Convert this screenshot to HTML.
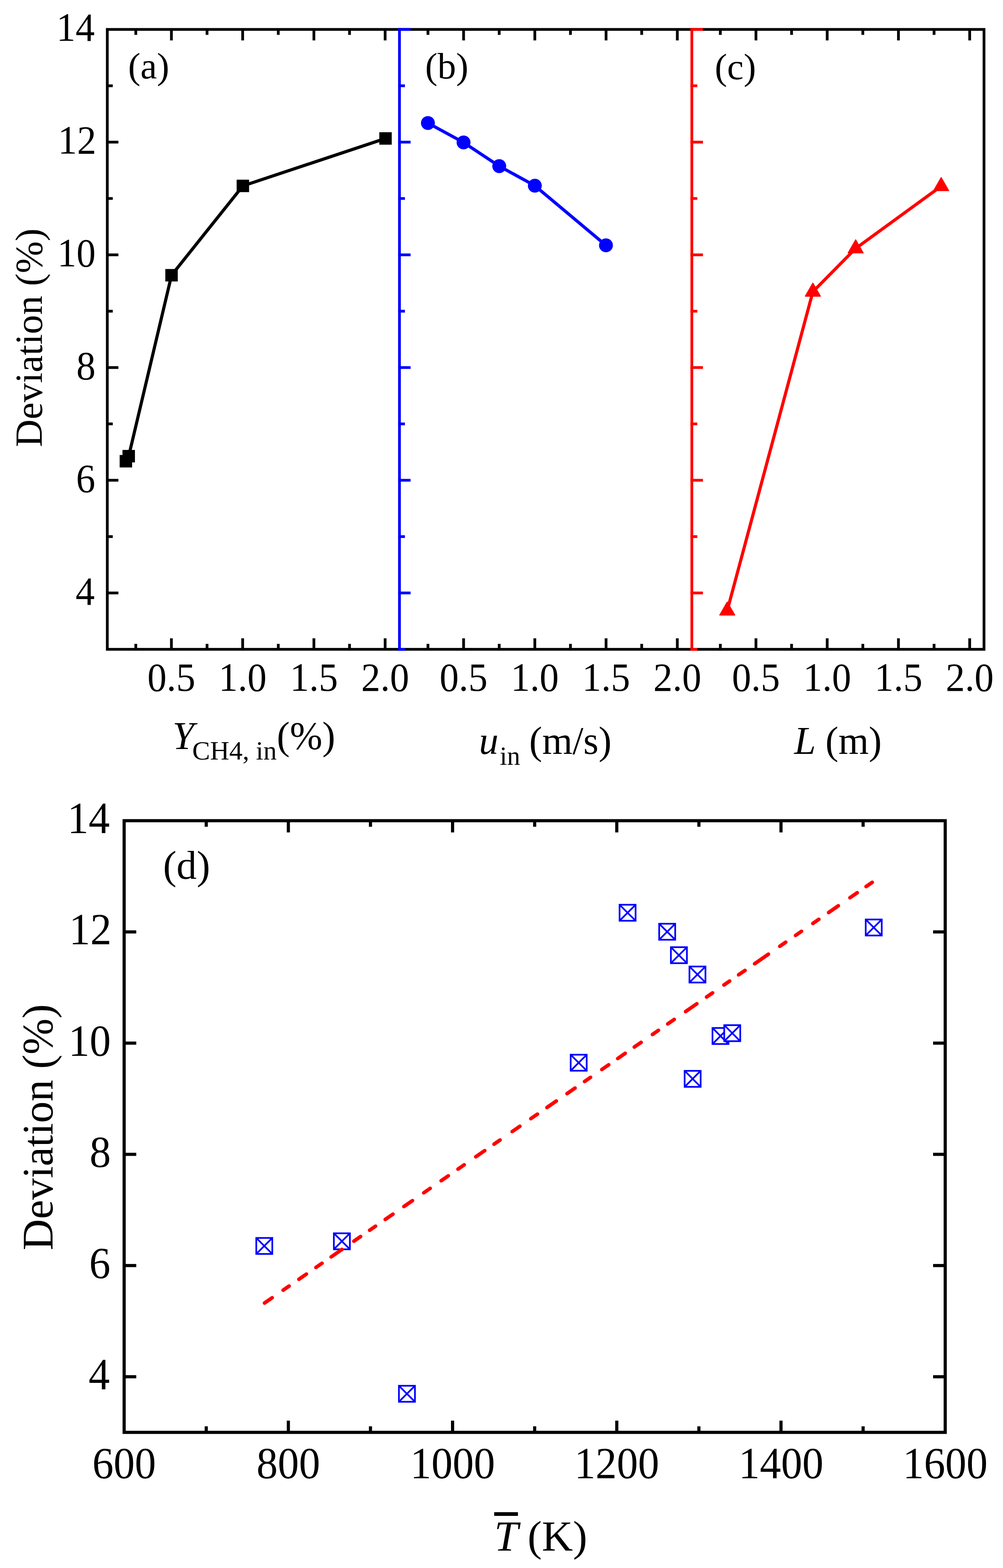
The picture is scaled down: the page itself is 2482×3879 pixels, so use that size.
<!DOCTYPE html>
<html><head><meta charset="utf-8"><title>Deviation plots</title><style>
html,body{margin:0;padding:0;background:#fff;}
svg{display:block;}
text{font-family:"Liberation Serif","Times New Roman",serif;fill:#000;}
</style></head><body>
<svg width="2482" height="3879" viewBox="0 0 2482 3879">
<rect x="0" y="0" width="2482" height="3879" fill="#fff"/>
<g id="top">
<rect x="265.5" y="72.8" width="2169.50" height="1533.51" fill="none" stroke="#000" stroke-width="6.8"/>
<line x1="265.50" y1="1466.90" x2="293.00" y2="1466.90" stroke="#000" stroke-width="6.8"/>
<line x1="265.50" y1="1327.49" x2="279.00" y2="1327.49" stroke="#000" stroke-width="6.8"/>
<line x1="265.50" y1="1188.08" x2="293.00" y2="1188.08" stroke="#000" stroke-width="6.8"/>
<line x1="265.50" y1="1048.67" x2="279.00" y2="1048.67" stroke="#000" stroke-width="6.8"/>
<line x1="265.50" y1="909.26" x2="293.00" y2="909.26" stroke="#000" stroke-width="6.8"/>
<line x1="265.50" y1="769.85" x2="279.00" y2="769.85" stroke="#000" stroke-width="6.8"/>
<line x1="265.50" y1="630.44" x2="293.00" y2="630.44" stroke="#000" stroke-width="6.8"/>
<line x1="265.50" y1="491.03" x2="279.00" y2="491.03" stroke="#000" stroke-width="6.8"/>
<line x1="265.50" y1="351.62" x2="293.00" y2="351.62" stroke="#000" stroke-width="6.8"/>
<line x1="265.50" y1="212.21" x2="279.00" y2="212.21" stroke="#000" stroke-width="6.8"/>
<line x1="336.02" y1="1606.31" x2="336.02" y2="1592.81" stroke="#000" stroke-width="6.8"/>
<line x1="336.02" y1="72.80" x2="336.02" y2="86.30" stroke="#000" stroke-width="6.8"/>
<line x1="424.17" y1="1606.31" x2="424.17" y2="1579.11" stroke="#000" stroke-width="6.8"/>
<line x1="424.17" y1="72.80" x2="424.17" y2="100.00" stroke="#000" stroke-width="6.8"/>
<line x1="512.32" y1="1606.31" x2="512.32" y2="1592.81" stroke="#000" stroke-width="6.8"/>
<line x1="512.32" y1="72.80" x2="512.32" y2="86.30" stroke="#000" stroke-width="6.8"/>
<line x1="600.47" y1="1606.31" x2="600.47" y2="1579.11" stroke="#000" stroke-width="6.8"/>
<line x1="600.47" y1="72.80" x2="600.47" y2="100.00" stroke="#000" stroke-width="6.8"/>
<line x1="688.62" y1="1606.31" x2="688.62" y2="1592.81" stroke="#000" stroke-width="6.8"/>
<line x1="688.62" y1="72.80" x2="688.62" y2="86.30" stroke="#000" stroke-width="6.8"/>
<line x1="776.77" y1="1606.31" x2="776.77" y2="1579.11" stroke="#000" stroke-width="6.8"/>
<line x1="776.77" y1="72.80" x2="776.77" y2="100.00" stroke="#000" stroke-width="6.8"/>
<line x1="864.92" y1="1606.31" x2="864.92" y2="1592.81" stroke="#000" stroke-width="6.8"/>
<line x1="864.92" y1="72.80" x2="864.92" y2="86.30" stroke="#000" stroke-width="6.8"/>
<line x1="953.07" y1="1606.31" x2="953.07" y2="1579.11" stroke="#000" stroke-width="6.8"/>
<line x1="953.07" y1="72.80" x2="953.07" y2="100.00" stroke="#000" stroke-width="6.8"/>
<line x1="1059.02" y1="1606.31" x2="1059.02" y2="1592.81" stroke="#000" stroke-width="6.8"/>
<line x1="1059.02" y1="72.80" x2="1059.02" y2="86.30" stroke="#000" stroke-width="6.8"/>
<line x1="1147.17" y1="1606.31" x2="1147.17" y2="1579.11" stroke="#000" stroke-width="6.8"/>
<line x1="1147.17" y1="72.80" x2="1147.17" y2="100.00" stroke="#000" stroke-width="6.8"/>
<line x1="1235.32" y1="1606.31" x2="1235.32" y2="1592.81" stroke="#000" stroke-width="6.8"/>
<line x1="1235.32" y1="72.80" x2="1235.32" y2="86.30" stroke="#000" stroke-width="6.8"/>
<line x1="1323.47" y1="1606.31" x2="1323.47" y2="1579.11" stroke="#000" stroke-width="6.8"/>
<line x1="1323.47" y1="72.80" x2="1323.47" y2="100.00" stroke="#000" stroke-width="6.8"/>
<line x1="1411.62" y1="1606.31" x2="1411.62" y2="1592.81" stroke="#000" stroke-width="6.8"/>
<line x1="1411.62" y1="72.80" x2="1411.62" y2="86.30" stroke="#000" stroke-width="6.8"/>
<line x1="1499.77" y1="1606.31" x2="1499.77" y2="1579.11" stroke="#000" stroke-width="6.8"/>
<line x1="1499.77" y1="72.80" x2="1499.77" y2="100.00" stroke="#000" stroke-width="6.8"/>
<line x1="1587.92" y1="1606.31" x2="1587.92" y2="1592.81" stroke="#000" stroke-width="6.8"/>
<line x1="1587.92" y1="72.80" x2="1587.92" y2="86.30" stroke="#000" stroke-width="6.8"/>
<line x1="1676.07" y1="1606.31" x2="1676.07" y2="1579.11" stroke="#000" stroke-width="6.8"/>
<line x1="1676.07" y1="72.80" x2="1676.07" y2="100.00" stroke="#000" stroke-width="6.8"/>
<line x1="1782.52" y1="1606.31" x2="1782.52" y2="1592.81" stroke="#000" stroke-width="6.8"/>
<line x1="1782.52" y1="72.80" x2="1782.52" y2="86.30" stroke="#000" stroke-width="6.8"/>
<line x1="1870.67" y1="1606.31" x2="1870.67" y2="1579.11" stroke="#000" stroke-width="6.8"/>
<line x1="1870.67" y1="72.80" x2="1870.67" y2="100.00" stroke="#000" stroke-width="6.8"/>
<line x1="1958.82" y1="1606.31" x2="1958.82" y2="1592.81" stroke="#000" stroke-width="6.8"/>
<line x1="1958.82" y1="72.80" x2="1958.82" y2="86.30" stroke="#000" stroke-width="6.8"/>
<line x1="2046.97" y1="1606.31" x2="2046.97" y2="1579.11" stroke="#000" stroke-width="6.8"/>
<line x1="2046.97" y1="72.80" x2="2046.97" y2="100.00" stroke="#000" stroke-width="6.8"/>
<line x1="2135.12" y1="1606.31" x2="2135.12" y2="1592.81" stroke="#000" stroke-width="6.8"/>
<line x1="2135.12" y1="72.80" x2="2135.12" y2="86.30" stroke="#000" stroke-width="6.8"/>
<line x1="2223.27" y1="1606.31" x2="2223.27" y2="1579.11" stroke="#000" stroke-width="6.8"/>
<line x1="2223.27" y1="72.80" x2="2223.27" y2="100.00" stroke="#000" stroke-width="6.8"/>
<line x1="2311.42" y1="1606.31" x2="2311.42" y2="1592.81" stroke="#000" stroke-width="6.8"/>
<line x1="2311.42" y1="72.80" x2="2311.42" y2="86.30" stroke="#000" stroke-width="6.8"/>
<line x1="2399.57" y1="1606.31" x2="2399.57" y2="1579.11" stroke="#000" stroke-width="6.8"/>
<line x1="2399.57" y1="72.80" x2="2399.57" y2="100.00" stroke="#000" stroke-width="6.8"/>
<line x1="988.50" y1="69.40" x2="988.50" y2="1609.71" stroke="#0000ff" stroke-width="6.8"/>
<line x1="985.11" y1="1606.31" x2="1002.00" y2="1606.31" stroke="#0000ff" stroke-width="6.8"/>
<line x1="985.11" y1="1466.90" x2="1016.00" y2="1466.90" stroke="#0000ff" stroke-width="6.8"/>
<line x1="985.11" y1="1327.49" x2="1002.00" y2="1327.49" stroke="#0000ff" stroke-width="6.8"/>
<line x1="985.11" y1="1188.08" x2="1016.00" y2="1188.08" stroke="#0000ff" stroke-width="6.8"/>
<line x1="985.11" y1="1048.67" x2="1002.00" y2="1048.67" stroke="#0000ff" stroke-width="6.8"/>
<line x1="985.11" y1="909.26" x2="1016.00" y2="909.26" stroke="#0000ff" stroke-width="6.8"/>
<line x1="985.11" y1="769.85" x2="1002.00" y2="769.85" stroke="#0000ff" stroke-width="6.8"/>
<line x1="985.11" y1="630.44" x2="1016.00" y2="630.44" stroke="#0000ff" stroke-width="6.8"/>
<line x1="985.11" y1="491.03" x2="1002.00" y2="491.03" stroke="#0000ff" stroke-width="6.8"/>
<line x1="985.11" y1="351.62" x2="1016.00" y2="351.62" stroke="#0000ff" stroke-width="6.8"/>
<line x1="985.11" y1="212.21" x2="1002.00" y2="212.21" stroke="#0000ff" stroke-width="6.8"/>
<line x1="985.11" y1="72.80" x2="1016.00" y2="72.80" stroke="#0000ff" stroke-width="6.8"/>
<line x1="1712.00" y1="69.40" x2="1712.00" y2="1609.71" stroke="#ff0000" stroke-width="6.8"/>
<line x1="1708.61" y1="1606.31" x2="1725.50" y2="1606.31" stroke="#ff0000" stroke-width="6.8"/>
<line x1="1708.61" y1="1466.90" x2="1739.50" y2="1466.90" stroke="#ff0000" stroke-width="6.8"/>
<line x1="1708.61" y1="1327.49" x2="1725.50" y2="1327.49" stroke="#ff0000" stroke-width="6.8"/>
<line x1="1708.61" y1="1188.08" x2="1739.50" y2="1188.08" stroke="#ff0000" stroke-width="6.8"/>
<line x1="1708.61" y1="1048.67" x2="1725.50" y2="1048.67" stroke="#ff0000" stroke-width="6.8"/>
<line x1="1708.61" y1="909.26" x2="1739.50" y2="909.26" stroke="#ff0000" stroke-width="6.8"/>
<line x1="1708.61" y1="769.85" x2="1725.50" y2="769.85" stroke="#ff0000" stroke-width="6.8"/>
<line x1="1708.61" y1="630.44" x2="1739.50" y2="630.44" stroke="#ff0000" stroke-width="6.8"/>
<line x1="1708.61" y1="491.03" x2="1725.50" y2="491.03" stroke="#ff0000" stroke-width="6.8"/>
<line x1="1708.61" y1="351.62" x2="1739.50" y2="351.62" stroke="#ff0000" stroke-width="6.8"/>
<line x1="1708.61" y1="212.21" x2="1725.50" y2="212.21" stroke="#ff0000" stroke-width="6.8"/>
<line x1="1708.61" y1="72.80" x2="1739.50" y2="72.80" stroke="#ff0000" stroke-width="6.8"/>
</g>
<text transform="translate(234.48,1495.50) scale(1.0,1.05)" font-size="95" text-anchor="end">4</text>
<text transform="translate(235.83,1216.68) scale(1.0,1.05)" font-size="95" text-anchor="end">6</text>
<text transform="translate(236.62,937.86) scale(1.0,1.05)" font-size="95" text-anchor="end">8</text>
<text transform="translate(236.62,659.04) scale(1.0,1.05)" font-size="95" text-anchor="end">10</text>
<text transform="translate(238.24,380.22) scale(1.0,1.05)" font-size="95" text-anchor="end">12</text>
<text transform="translate(234.48,101.40) scale(1.0,1.05)" font-size="95" text-anchor="end">14</text>
<text transform="translate(424.17,1709.00) scale(1.0,1.05)" font-size="95" text-anchor="middle">0.5</text>
<text transform="translate(600.47,1709.00) scale(1.0,1.05)" font-size="95" text-anchor="middle">1.0</text>
<text transform="translate(776.77,1709.00) scale(1.0,1.05)" font-size="95" text-anchor="middle">1.5</text>
<text transform="translate(953.07,1709.00) scale(1.0,1.05)" font-size="95" text-anchor="middle">2.0</text>
<text transform="translate(1147.17,1709.00) scale(1.0,1.05)" font-size="95" text-anchor="middle">0.5</text>
<text transform="translate(1323.47,1709.00) scale(1.0,1.05)" font-size="95" text-anchor="middle">1.0</text>
<text transform="translate(1499.77,1709.00) scale(1.0,1.05)" font-size="95" text-anchor="middle">1.5</text>
<text transform="translate(1676.07,1709.00) scale(1.0,1.05)" font-size="95" text-anchor="middle">2.0</text>
<text transform="translate(1870.67,1709.00) scale(1.0,1.05)" font-size="95" text-anchor="middle">0.5</text>
<text transform="translate(2046.97,1709.00) scale(1.0,1.05)" font-size="95" text-anchor="middle">1.0</text>
<text transform="translate(2223.27,1709.00) scale(1.0,1.05)" font-size="95" text-anchor="middle">1.5</text>
<text transform="translate(2399.57,1709.00) scale(1.0,1.05)" font-size="95" text-anchor="middle">2.0</text>
<text x="316.90" y="193.80" font-size="92">(a)</text>
<text x="1051.90" y="193.80" font-size="92">(b)</text>
<text x="1768.70" y="195.60" font-size="92">(c)</text>
<text x="426.80" y="1853.00" font-size="96.5" font-style="italic">Y</text>
<text x="475.70" y="1878.90" font-size="66">CH4, in</text>
<text x="685.00" y="1852.50" font-size="96.5">(%)</text>
<text x="1185.20" y="1865.00" font-size="96.5" font-style="italic">u</text>
<text x="1236.70" y="1892.00" font-size="65">in</text>
<text x="1309.60" y="1864.90" font-size="96.5">(m/s)</text>
<text x="1965.20" y="1864.90" font-size="96.5" font-style="italic">L</text>
<text x="2042.50" y="1864.90" font-size="96.5">(m)</text>
<text transform="translate(103.8,1106) rotate(-90)" x="0" y="0" font-size="95">Deviation (%)</text>
<polyline fill="none" stroke="#000" stroke-width="7.8" stroke-linejoin="round" points="311.5,1141.0 318.5,1128.5 424.5,680.9 601.0,459.9 954.0,342.5"/>
<rect x="296.10" y="1125.60" width="30.8" height="30.8" fill="#000"/>
<rect x="303.10" y="1113.10" width="30.8" height="30.8" fill="#000"/>
<rect x="409.10" y="665.50" width="30.8" height="30.8" fill="#000"/>
<rect x="585.60" y="444.50" width="30.8" height="30.8" fill="#000"/>
<rect x="938.60" y="327.10" width="30.8" height="30.8" fill="#000"/>
<polyline fill="none" stroke="#00f" stroke-width="7.8" stroke-linejoin="round" points="1058.9,304.4 1147.1,352.4 1235.4,411.0 1323.5,459.4 1499.5,606.9"/>
<circle cx="1058.9" cy="304.4" r="17.2" fill="#00f"/>
<circle cx="1147.1" cy="352.4" r="17.2" fill="#00f"/>
<circle cx="1235.4" cy="411.0" r="17.2" fill="#00f"/>
<circle cx="1323.5" cy="459.4" r="17.2" fill="#00f"/>
<circle cx="1499.5" cy="606.9" r="17.2" fill="#00f"/>
<polyline fill="none" stroke="#f00" stroke-width="7.8" stroke-linejoin="round" points="1799.6,1510.6 2011.5,721.7 2117.4,614.6 2329.0,460.6"/>
<polygon points="1799.60,1489.30 1781.04,1521.60 1818.16,1521.60" fill="#f00" stroke="#f00" stroke-width="2.4" stroke-linejoin="round"/>
<polygon points="2011.50,700.40 1992.94,732.70 2030.06,732.70" fill="#f00" stroke="#f00" stroke-width="2.4" stroke-linejoin="round"/>
<polygon points="2117.40,593.30 2098.84,625.60 2135.96,625.60" fill="#f00" stroke="#f00" stroke-width="2.4" stroke-linejoin="round"/>
<polygon points="2329.00,439.30 2310.44,471.60 2347.56,471.60" fill="#f00" stroke="#f00" stroke-width="2.4" stroke-linejoin="round"/>
<g id="bottom">
<rect x="307.2" y="2030.3" width="2031.80" height="1513.16" fill="none" stroke="#000" stroke-width="7.8"/>
<line x1="307.20" y1="3405.90" x2="337.20" y2="3405.90" stroke="#000" stroke-width="7.8"/>
<line x1="2339.00" y1="3405.90" x2="2309.00" y2="3405.90" stroke="#000" stroke-width="7.8"/>
<line x1="307.20" y1="3130.78" x2="337.20" y2="3130.78" stroke="#000" stroke-width="7.8"/>
<line x1="2339.00" y1="3130.78" x2="2309.00" y2="3130.78" stroke="#000" stroke-width="7.8"/>
<line x1="307.20" y1="2855.66" x2="337.20" y2="2855.66" stroke="#000" stroke-width="7.8"/>
<line x1="2339.00" y1="2855.66" x2="2309.00" y2="2855.66" stroke="#000" stroke-width="7.8"/>
<line x1="307.20" y1="2580.54" x2="337.20" y2="2580.54" stroke="#000" stroke-width="7.8"/>
<line x1="2339.00" y1="2580.54" x2="2309.00" y2="2580.54" stroke="#000" stroke-width="7.8"/>
<line x1="307.20" y1="2305.42" x2="337.20" y2="2305.42" stroke="#000" stroke-width="7.8"/>
<line x1="2339.00" y1="2305.42" x2="2309.00" y2="2305.42" stroke="#000" stroke-width="7.8"/>
<line x1="510.38" y1="3543.46" x2="510.38" y2="3528.46" stroke="#000" stroke-width="7.8"/>
<line x1="510.38" y1="2030.30" x2="510.38" y2="2045.30" stroke="#000" stroke-width="7.8"/>
<line x1="713.56" y1="3543.46" x2="713.56" y2="3514.46" stroke="#000" stroke-width="7.8"/>
<line x1="713.56" y1="2030.30" x2="713.56" y2="2059.30" stroke="#000" stroke-width="7.8"/>
<line x1="916.74" y1="3543.46" x2="916.74" y2="3528.46" stroke="#000" stroke-width="7.8"/>
<line x1="916.74" y1="2030.30" x2="916.74" y2="2045.30" stroke="#000" stroke-width="7.8"/>
<line x1="1119.92" y1="3543.46" x2="1119.92" y2="3514.46" stroke="#000" stroke-width="7.8"/>
<line x1="1119.92" y1="2030.30" x2="1119.92" y2="2059.30" stroke="#000" stroke-width="7.8"/>
<line x1="1323.10" y1="3543.46" x2="1323.10" y2="3528.46" stroke="#000" stroke-width="7.8"/>
<line x1="1323.10" y1="2030.30" x2="1323.10" y2="2045.30" stroke="#000" stroke-width="7.8"/>
<line x1="1526.28" y1="3543.46" x2="1526.28" y2="3514.46" stroke="#000" stroke-width="7.8"/>
<line x1="1526.28" y1="2030.30" x2="1526.28" y2="2059.30" stroke="#000" stroke-width="7.8"/>
<line x1="1729.46" y1="3543.46" x2="1729.46" y2="3528.46" stroke="#000" stroke-width="7.8"/>
<line x1="1729.46" y1="2030.30" x2="1729.46" y2="2045.30" stroke="#000" stroke-width="7.8"/>
<line x1="1932.64" y1="3543.46" x2="1932.64" y2="3514.46" stroke="#000" stroke-width="7.8"/>
<line x1="1932.64" y1="2030.30" x2="1932.64" y2="2059.30" stroke="#000" stroke-width="7.8"/>
<line x1="2135.82" y1="3543.46" x2="2135.82" y2="3528.46" stroke="#000" stroke-width="7.8"/>
<line x1="2135.82" y1="2030.30" x2="2135.82" y2="2045.30" stroke="#000" stroke-width="7.8"/>
</g>
<text transform="translate(271.84,3436.90) scale(1.0,1.04)" font-size="105" text-anchor="end">4</text>
<text transform="translate(273.33,3161.78) scale(1.0,1.04)" font-size="105" text-anchor="end">6</text>
<text transform="translate(274.20,2886.66) scale(1.0,1.04)" font-size="105" text-anchor="end">8</text>
<text transform="translate(274.20,2611.54) scale(1.0,1.04)" font-size="105" text-anchor="end">10</text>
<text transform="translate(276.00,2336.42) scale(1.0,1.04)" font-size="105" text-anchor="end">12</text>
<text transform="translate(271.84,2061.30) scale(1.0,1.04)" font-size="105" text-anchor="end">14</text>
<text transform="translate(307.20,3657.00) scale(1.0,1.04)" font-size="105" text-anchor="middle">600</text>
<text transform="translate(713.56,3657.00) scale(1.0,1.04)" font-size="105" text-anchor="middle">800</text>
<text transform="translate(1119.92,3657.00) scale(1.0,1.04)" font-size="105" text-anchor="middle">1000</text>
<text transform="translate(1526.28,3657.00) scale(1.0,1.04)" font-size="105" text-anchor="middle">1200</text>
<text transform="translate(1932.64,3657.00) scale(1.0,1.04)" font-size="105" text-anchor="middle">1400</text>
<text transform="translate(2339.00,3657.00) scale(1.0,1.04)" font-size="105" text-anchor="middle">1600</text>
<text x="403.40" y="2174.40" font-size="100">(d)</text>
<text x="1223.00" y="3835.80" font-size="106.5" font-style="italic">T</text>
<rect x="1222.9" y="3740.9" width="58.8" height="9.2" fill="#000"/>
<text x="1305.40" y="3835.80" font-size="106.5">(K)</text>
<text transform="translate(130.4,3093.1) rotate(-90)" x="0" y="0" font-size="107">Deviation (%)</text>
<g stroke="#00f" stroke-width="4.2" fill="#fff"><rect x="634.20" y="3062.50" width="39.6" height="39.6"/><path d="M634.20,3062.50L673.80,3102.10M673.80,3062.50L634.20,3102.10" fill="none"/></g>
<g stroke="#00f" stroke-width="4.2" fill="#fff"><rect x="826.20" y="3051.00" width="39.6" height="39.6"/><path d="M826.20,3051.00L865.80,3090.60M865.80,3051.00L826.20,3090.60" fill="none"/></g>
<g stroke="#00f" stroke-width="4.2" fill="#fff"><rect x="987.20" y="3428.20" width="39.6" height="39.6"/><path d="M987.20,3428.20L1026.80,3467.80M1026.80,3428.20L987.20,3467.80" fill="none"/></g>
<g stroke="#00f" stroke-width="4.2" fill="#fff"><rect x="1412.20" y="2609.20" width="39.6" height="39.6"/><path d="M1412.20,2609.20L1451.80,2648.80M1451.80,2609.20L1412.20,2648.80" fill="none"/></g>
<g stroke="#00f" stroke-width="4.2" fill="#fff"><rect x="1533.20" y="2238.20" width="39.6" height="39.6"/><path d="M1533.20,2238.20L1572.80,2277.80M1572.80,2238.20L1533.20,2277.80" fill="none"/></g>
<g stroke="#00f" stroke-width="4.2" fill="#fff"><rect x="1631.20" y="2285.20" width="39.6" height="39.6"/><path d="M1631.20,2285.20L1670.80,2324.80M1670.80,2285.20L1631.20,2324.80" fill="none"/></g>
<g stroke="#00f" stroke-width="4.2" fill="#fff"><rect x="1660.20" y="2343.20" width="39.6" height="39.6"/><path d="M1660.20,2343.20L1699.80,2382.80M1699.80,2343.20L1660.20,2382.80" fill="none"/></g>
<g stroke="#00f" stroke-width="4.2" fill="#fff"><rect x="1694.20" y="2649.10" width="39.6" height="39.6"/><path d="M1694.20,2649.10L1733.80,2688.70M1733.80,2649.10L1694.20,2688.70" fill="none"/></g>
<g stroke="#00f" stroke-width="4.2" fill="#fff"><rect x="1706.10" y="2391.00" width="39.6" height="39.6"/><path d="M1706.10,2391.00L1745.70,2430.60M1745.70,2391.00L1706.10,2430.60" fill="none"/></g>
<g stroke="#00f" stroke-width="4.2" fill="#fff"><rect x="1763.10" y="2543.10" width="39.6" height="39.6"/><path d="M1763.10,2543.10L1802.70,2582.70M1802.70,2543.10L1763.10,2582.70" fill="none"/></g>
<g stroke="#00f" stroke-width="4.2" fill="#fff"><rect x="1792.20" y="2536.10" width="39.6" height="39.6"/><path d="M1792.20,2536.10L1831.80,2575.70M1831.80,2536.10L1792.20,2575.70" fill="none"/></g>
<g stroke="#00f" stroke-width="4.2" fill="#fff"><rect x="2142.30" y="2274.70" width="39.6" height="39.6"/><path d="M2142.30,2274.70L2181.90,2314.30M2181.90,2274.70L2142.30,2314.30" fill="none"/></g>
<path d="M654.57,3223.56L673.48,3210.47M700.62,3191.69L715.42,3181.45M739.59,3164.72L758.17,3151.85M781.77,3135.52L796.82,3125.11M819.52,3109.40L846.32,3090.85M875.68,3070.53L892.29,3059.03M914.65,3043.55L929.29,3033.42M953.30,3016.81L972.38,3003.60M999.51,2984.82L1020.72,2970.14M1048.60,2950.85L1064.47,2939.86M1091.69,2921.03L1109.28,2908.85M1133.29,2892.23L1148.67,2881.59M1177.37,2861.73L1199.49,2846.42M1222.51,2830.48L1237.39,2820.18M1267.40,2799.41L1286.48,2786.21M1313.62,2767.42L1329.90,2756.16M1353.50,2739.82L1376.68,2723.77M1403.16,2705.45L1422.98,2691.73M1446.49,2675.46L1461.38,2665.16M1489.25,2645.86L1506.27,2634.08M1528.64,2618.60L1547.14,2605.80M1569.59,2590.26L1586.44,2578.60M1614.48,2559.19L1629.37,2548.89M1652.39,2532.95L1668.42,2521.86M1696.46,2502.45L1724.42,2483.10M1748.43,2466.48L1763.31,2456.18M1791.35,2436.78L1805.58,2426.93M1827.78,2411.57L1843.57,2400.64M1867.33,2384.19L1901.54,2360.52M1929.66,2341.05L1944.46,2330.81M1968.63,2314.08L1983.35,2303.89M2011.47,2284.43L2026.27,2274.18M2050.45,2257.45L2074.54,2240.78M2103.24,2220.92L2121.25,2208.45M2143.20,2193.26L2158.41,2182.73" fill="none" stroke="#f00" stroke-width="9" stroke-linecap="round"/>
</svg>
</body></html>
